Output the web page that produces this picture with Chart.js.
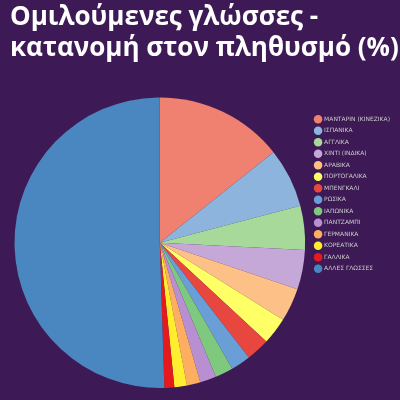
<!DOCTYPE html><html><head><script src="https://cdn.jsdelivr.net/npm/chart.js@4"></script>
<style>html,body{margin:0;background:#3d1a55;}#w{width:400px;height:400px;}</style></head><body><div id="w"><canvas id="c"></canvas></div>
<script>
const labels=["ΜΑΝΤΑΡΙΝ (ΚΙΝΕΖΙΚΑ)","ΙΣΠΑΝΙΚΑ","ΑΓΓΛΙΚΑ","ΧΙΝΤΙ (ΙΝΔΙΚΑ)","ΑΡΑΒΙΚΑ","ΠΟΡΤΟΓΑΛΙΚΑ","ΜΠΕΝΓΚΑΛΙ","ΡΩΣΙΚΑ","ΙΑΠΩΝΙΚΑ","ΠΑΝΤΖΑΜΠΙ","ΓΕΡΜΑΝΙΚΑ","ΚΟΡΕΑΤΙΚΑ","ΓΑΛΛΙΚΑ","ΑΛΛΕΣ ΓΛΩΣΣΕΣ"];
const values=[14.3,6.6,4.9,4.4,3.7,3.0,2.6,2.2,2.0,1.8,1.5,1.4,1.1,50.5];
const colors=["#f08070","#8db4dc","#a6d99a","#c5a8d8","#fdc086","#ffff66","#e8473f","#6a9ed6","#7fc97f","#b88fd0","#fdae61","#ffed30","#e41a1c","#4a86c0"];
new Chart(document.getElementById('c'),{type:'pie',data:{labels,datasets:[{data:values,backgroundColor:colors,borderWidth:0}]},
options:{responsive:true,maintainAspectRatio:false,animation:false,layout:{padding:{left:10,top:0,bottom:12,right:0}},
plugins:{title:{display:true,text:["Ομιλούμενες γλώσσες -","κατανομή στον πληθυσμό (%)"],align:'start',color:'#fff',font:{family:'Open Sans',size:26,weight:'bold'},padding:{top:2,bottom:33}},
legend:{position:'right',labels:{color:'#ccc',font:{family:'DejaVu Sans',size:6},usePointStyle:true,pointStyle:'circle',boxWidth:6,boxHeight:6,padding:5.5}},tooltip:{enabled:false}}}});
</script></body></html>
